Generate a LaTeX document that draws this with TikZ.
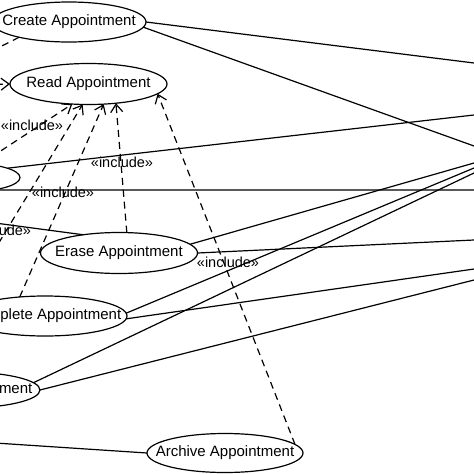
\documentclass[tikz,border=0pt]{standalone}
\usepackage{fontspec}
\setmainfont{Liberation Sans}
\usetikzlibrary{shapes.geometric,arrows.meta}
\begin{document}
\begin{tikzpicture}[x=1pt,y=-1pt,line width=1.2pt,
    uc/.style={draw,ellipse,inner xsep=-25pt,inner ysep=0pt,outer sep=0pt,font=\fontsize{15}{17}\selectfont},
    incl/.style={font=\fontsize{14.5}{17}\selectfont},
    dep/.style={dash pattern=on 7pt off 5pt,-{Straight Barb[length=8pt,width=12pt]}}]
    \useasboundingbox (0,0) rectangle (474,474);
    \clip (0,0) rectangle (474,474);
    % use cases
    \node[uc,minimum width=154pt,minimum height=40pt] (create) at (69,22) {Create Appointment};
    \node[uc,minimum width=157pt,minimum height=41pt] (read) at (88.5,84) {Read Appointment};
    \node[uc,minimum width=100pt,minimum height=28pt] (manage) at (-30,177.5) {};
    \node[uc,minimum width=157pt,minimum height=41pt] (erase) at (119,253) {Erase Appointment};
    \node[uc,minimum width=164pt,minimum height=40pt] (complete) at (45,316) {Complete Appointment};
    \node[uc,minimum width=152pt,minimum height=36pt] (update) at (-36,390) {Update Appointment};
    \node[uc,minimum width=156pt,minimum height=39pt] (archive) at (225,453) {Archive Appointment};
    % actors outside the picture
    \foreach \n/\y in {1/63,2/146,3/115,4/190,5/163,6/240,7/168,8/173,9/269,10/280}
        \coordinate (r\n) at (474,\y);
    \coordinate (l1) at (-30,62);
    \coordinate (l2) at (-40,85);
    \coordinate (l3) at (-20,221);
    \coordinate (l4) at (-20,274);
    \coordinate (l5) at (-20,442);
    % associations
    \draw (create.east) -- (r1);
    \draw (create.-4) -- (r2);
    \draw (manage.14.5) -- (r3);
    \draw (manage.-29) -- (r4);
    \draw (erase.7) -- (r5);
    \draw (erase.east) -- (r6);
    \draw (complete.2) -- (r7);
    \draw (update.6) -- (r8);
    \draw (complete.-2) -- (r9);
    \draw (update.east) -- (r10);
    \draw (l3) -- (erase.153);
    \draw (l5) -- (archive.west);
    % includes
    \draw[dep] (create.197) -- (l1);
    \draw[dep] (l2) -- (read.west);
    \draw[dep] (l4) -- (read.254);
    \draw[dep] (manage.51) -- (read.231);
    \draw[dep] (complete.143) -- (read.307);
    \draw[dep] (erase.69) -- (read.325);
    \draw[dep] (archive.7) -- (read.352);
    \node[incl] (i1) at (32,125) {«include»};
    \node[incl] (i2) at (122,162) {«include»};
    \node[incl] (i3) at (63,192) {«include»};
    \node[incl] (i4) at (0,230) {«include»};
    \node[incl] (i5) at (228,262) {«include»};
\end{tikzpicture}
\end{document}
